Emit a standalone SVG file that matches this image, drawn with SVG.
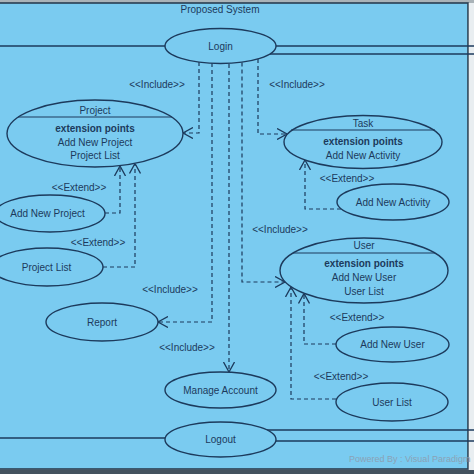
<svg xmlns="http://www.w3.org/2000/svg" width="474" height="474" viewBox="0 0 474 474">
<defs>
<style>
.t{font-family:"Liberation Sans",Arial,sans-serif;font-size:10px;fill:#1c3a5c;text-anchor:middle}
.b{font-weight:bold}
.uc{fill:#7acbf0;stroke:#1c3a5c;stroke-width:1.4}
.hd{stroke:#1c3a5c;stroke-width:1.2}
.assoc{fill:none;stroke:#1c3a5c;stroke-width:1.4}
.dep{fill:none;stroke:#1c3a5c;stroke-width:1.2;stroke-dasharray:4 3;marker-end:url(#open)}
</style>
<marker id="open" viewBox="0 0 10 12" refX="10" refY="6" markerWidth="10" markerHeight="12" markerUnits="userSpaceOnUse" orient="auto">
<path d="M0,0.5 L10,6 L0,11.5" fill="none" stroke="#1c3a5c" stroke-width="1.3"/>
</marker>
</defs>
<rect x="0" y="0" width="474" height="474" fill="#aab3b8"/>
<rect x="-2" y="3" width="470" height="466" fill="#7acbf0" stroke="#2a3e52" stroke-width="1.6"/>
<rect x="468.8" y="3" width="6" height="467" fill="#e9eef1"/>
<rect x="0" y="470" width="474" height="4" fill="#44525e"/>
<text class="t" x="220" y="13">Proposed System</text>
<text x="349" y="462" font-family="Liberation Sans, Arial, sans-serif" font-size="9" fill="#8aa2b6">Powered By : Visual Paradigm</text>

<g id="connectors">
<path class="assoc" d="M0,46 H165"/>
<path class="assoc" d="M276,46 H474"/>
<path class="assoc" d="M270,54 H474"/>
<path class="assoc" d="M0,438 H165"/>
<path class="assoc" d="M267,430 H474"/>
<path class="assoc" d="M276,441 H474"/>
<path class="dep" d="M199,62 V133 H183"/>
<path class="dep" d="M212,63 V322 H158"/>
<path class="dep" d="M229,64 V372"/>
<path class="dep" d="M242,62.5 V282 H285"/>
<path class="dep" d="M258,59 V134 H287"/>
<path class="dep" d="M105,213 H120 V166"/>
<path class="dep" d="M103,267 H135 V163.5"/>
<path class="dep" d="M341,209 H305 V160"/>
<path class="dep" d="M336,344 H304 V293.5"/>
<path class="dep" d="M336,399 H291 V287"/>
<text class="t" x="157" y="87.5">&lt;&lt;Include&gt;&gt;</text>
<text class="t" x="297" y="87.5">&lt;&lt;Include&gt;&gt;</text>
<text class="t" x="280" y="232.5">&lt;&lt;Include&gt;&gt;</text>
<text class="t" x="170" y="292.5">&lt;&lt;Include&gt;&gt;</text>
<text class="t" x="187" y="350.5">&lt;&lt;Include&gt;&gt;</text>
<text class="t" x="79" y="190.5">&lt;&lt;Extend&gt;&gt;</text>
<text class="t" x="98" y="245.5">&lt;&lt;Extend&gt;&gt;</text>
<text class="t" x="347" y="181.5">&lt;&lt;Extend&gt;&gt;</text>
<text class="t" x="357" y="320.5">&lt;&lt;Extend&gt;&gt;</text>
<text class="t" x="341" y="379.5">&lt;&lt;Extend&gt;&gt;</text>
</g>

<g id="login">
<ellipse class="uc" cx="220.5" cy="46" rx="55.5" ry="17.5"/>
<text class="t" x="220.5" y="49.5">Login</text>
</g>
<g id="project">
<ellipse class="uc" cx="95" cy="133.5" rx="88" ry="33.5"/>
<line class="hd" x1="18" y1="117" x2="172" y2="117"/>
<text class="t" x="95" y="113.5">Project</text>
<text class="t b" x="95" y="131.5">extension points</text>
<text class="t" x="95" y="146">Add New Project</text>
<text class="t" x="95" y="159">Project List</text>
</g>
<g id="task">
<ellipse class="uc" cx="363" cy="142" rx="79" ry="26.5"/>
<line class="hd" x1="291" y1="130" x2="435" y2="130"/>
<text class="t" x="363" y="127">Task</text>
<text class="t b" x="363" y="144.5">extension points</text>
<text class="t" x="363" y="158.5">Add New Activity</text>
</g>
<g id="add-new-activity">
<ellipse class="uc" cx="393" cy="202" rx="56" ry="18"/>
<text class="t" x="393" y="205.5">Add New Activity</text>
</g>
<g id="user">
<ellipse class="uc" cx="364" cy="270.5" rx="84" ry="32.5"/>
<line class="hd" x1="293" y1="253" x2="435" y2="253"/>
<text class="t" x="364" y="248.5">User</text>
<text class="t b" x="364" y="266.5">extension points</text>
<text class="t" x="364" y="280.5">Add New User</text>
<text class="t" x="364" y="294.5">User List</text>
</g>
<g id="add-new-user">
<ellipse class="uc" cx="392.5" cy="344.5" rx="56.5" ry="17.5"/>
<text class="t" x="392.5" y="348">Add New User</text>
</g>
<g id="user-list">
<ellipse class="uc" cx="392" cy="402" rx="56" ry="19"/>
<text class="t" x="392" y="406">User List</text>
</g>
<g id="add-new-project">
<ellipse class="uc" cx="50" cy="213.5" rx="55" ry="18.5"/>
<text class="t" x="47.5" y="216.5">Add New Project</text>
</g>
<g id="project-list">
<ellipse class="uc" cx="47" cy="267" rx="56" ry="19"/>
<text class="t" x="46.5" y="271">Project List</text>
</g>
<g id="report">
<ellipse class="uc" cx="102" cy="322" rx="56" ry="19"/>
<text class="t" x="102" y="325.5">Report</text>
</g>
<g id="manage-account">
<ellipse class="uc" cx="220.5" cy="390" rx="55.5" ry="18"/>
<text class="t" x="220.5" y="393.5">Manage Account</text>
</g>
<g id="logout">
<ellipse class="uc" cx="220.5" cy="439.5" rx="55.5" ry="17.5"/>
<text class="t" x="220.5" y="443">Logout</text>
</g>
</svg>
